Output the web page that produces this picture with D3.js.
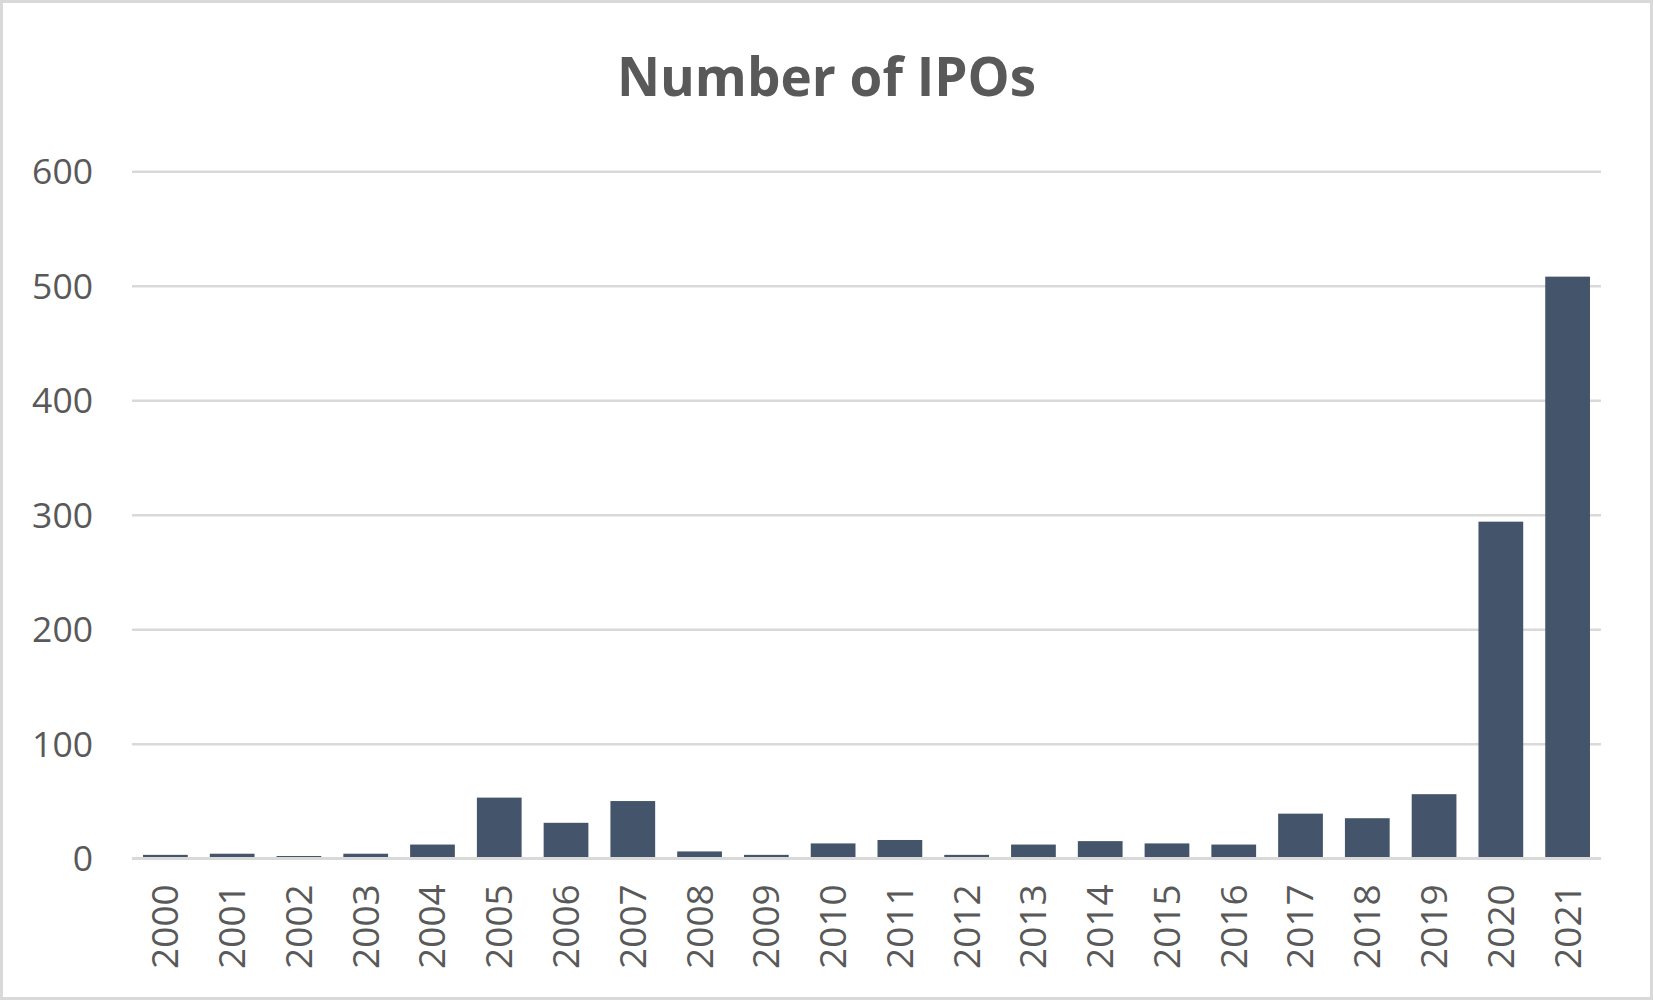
<!DOCTYPE html>
<meta charset="utf-8">
<html lang="en">
<head>
<style>
  body { margin: 0; background: #ffffff; }
  text { font-family: "Open Sans", sans-serif; fill: #595959; }
</style>
<script src="https://d3js.org/d3.v7.min.js"></script>
</head>
<body>
<div id="chart"></div>
<script>
// data
var years = ["2000","2001","2002","2003","2004","2005","2006","2007","2008","2009","2010",
             "2011","2012","2013","2014","2015","2016","2017","2018","2019","2020","2021"];
var ipos = [3, 4, 2, 4, 12, 53, 31, 50, 6, 3, 13, 16, 3, 12, 15, 13, 12, 39, 35, 56, 294, 508];
var yTicks = [0, 100, 200, 300, 400, 500, 600];
var title = "Number of IPOs";

var width = 1653, height = 1000;
var plotLeft = 132, plotRight = 1601, plotTop = 171.3, plotBottom = 858.3;

var svg = d3.select("#chart").append("svg")
  .attr("width", width)
  .attr("height", height);

// outer border
svg.append("rect")
  .attr("x", 1.5).attr("y", 1.5)
  .attr("width", width - 3).attr("height", height - 3)
  .attr("fill", "#ffffff")
  .attr("stroke", "#d9d9d9")
  .attr("stroke-width", 3);

var x = d3.scaleBand()
  .domain(years)
  .range([plotLeft, plotRight])
  .paddingInner(0.33)
  .paddingOuter(0.165);

var y = d3.scaleLinear()
  .domain([0, 600])
  .range([plotBottom, plotTop]);

// gridlines + y labels
var yAxis = svg.append("g")
  .attr("transform", "translate(" + plotLeft + ",0)")
  .call(d3.axisLeft(y).tickValues(yTicks).tickSize(-(plotRight - plotLeft)).tickPadding(39));
yAxis.select(".domain").remove();
yAxis.selectAll(".tick line").attr("stroke", "#d9d9d9").attr("stroke-width", 2.5);
yAxis.selectAll(".tick text")
  .attr("font-size", "35.5px")
  .attr("font-family", "Open Sans")
  .attr("fill", "#595959")
  .attr("dy", "0.35em");

// bars
svg.selectAll(".bar")
  .data(ipos)
  .enter()
  .append("rect")
  .attr("class", "bar")
  .attr("x", function (d, i) { return x(years[i]); })
  .attr("y", function (d) { return y(d); })
  .attr("width", x.bandwidth())
  .attr("height", function (d) { return y(0) - y(d); })
  .attr("fill", "#44546a");

// baseline drawn over the bars
svg.append("line")
  .attr("x1", plotLeft).attr("x2", plotRight)
  .attr("y1", y(0)).attr("y2", y(0))
  .attr("stroke", "#d9d9d9")
  .attr("stroke-width", 2.5);

// x labels, rotated
var xAxis = svg.append("g")
  .attr("transform", "translate(0," + y(0) + ")")
  .call(d3.axisBottom(x).tickSize(0).tickPadding(0));
xAxis.select(".domain").remove();
xAxis.selectAll(".tick text")
  .attr("font-size", "37px")
  .attr("font-family", "Open Sans")
  .attr("fill", "#595959")
  .attr("text-anchor", "end")
  .attr("transform", "rotate(-90)")
  .attr("x", -26)
  .attr("y", 0)
  .attr("dy", "0.35em");

// title
svg.append("text")
  .attr("x", width / 2)
  .attr("y", 96)
  .attr("text-anchor", "middle")
  .attr("font-size", "53px")
  .attr("font-weight", "bold")
  .attr("fill", "#595959")
  .text(title);
</script>
</body>
</html>
